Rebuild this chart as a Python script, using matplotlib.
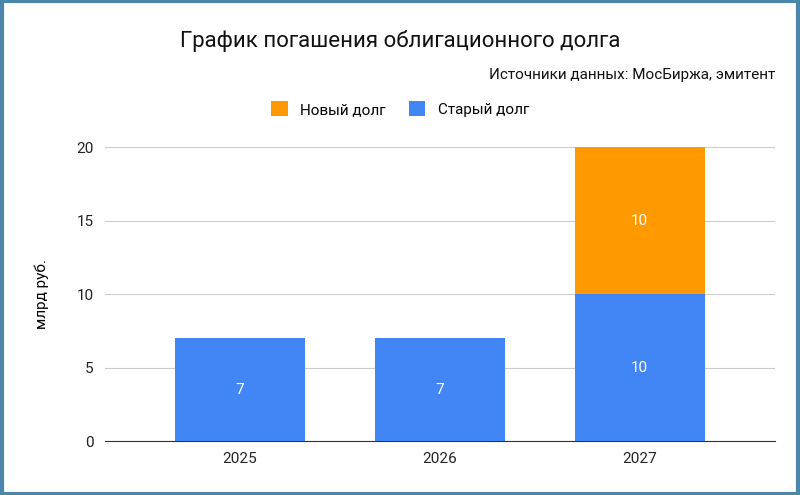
import matplotlib
matplotlib.use("Agg")
import matplotlib.pyplot as plt
from matplotlib.patches import Rectangle

years = ["2025", "2026", "2027"]
old_debt = [7, 7, 10]
new_debt = [0, 0, 10]
yticks = [0, 5, 10, 15, 20]

plt.rcParams["font.family"] = "Roboto"
fig = plt.figure(figsize=(8, 4.95), dpi=100)
ax = fig.add_axes([0.131, 0.109, 0.8375, 0.594])
x = list(range(len(years)))
blue, orange = "#4285f4", "#ff9900"
b1 = ax.bar(x, old_debt, width=0.65, color=blue, label="Старый долг", zorder=3)
b2 = ax.bar(x, new_debt, width=0.65, bottom=old_debt, color=orange, label="Новый долг", zorder=3)
for i, v in enumerate(old_debt):
    ax.text(i, v / 2, str(v), ha="center", va="center", color="white", fontsize=11, zorder=4)
for i, v in enumerate(new_debt):
    if v:
        ax.text(i, old_debt[i] + v / 2, str(v), ha="center", va="center", color="white", fontsize=11, zorder=4)
ax.set_xlim(-0.675, 2.675)
ax.set_ylim(0, 20)
ax.set_yticks(yticks)
ax.set_xticks(x)
ax.set_xticklabels(years)
ax.grid(axis="y", color="#cccccc", lw=0.8, zorder=0)
for s in ["top", "right", "left"]:
    ax.spines[s].set_visible(False)
ax.spines["bottom"].set_color("#333333")
ax.tick_params(length=0, labelsize=11, colors="#222222", pad=8)
ax.set_ylabel("млрд руб.", fontsize=11, labelpad=20)

fig.text(0.5, 0.918, "График погашения облигационного долга", ha="center", va="center", fontsize=16, color="#111111")
fig.text(0.969, 0.848, "Источники данных: МосБиржа, эмитент", ha="right", va="center", fontsize=11, color="#111111")
handles = [b2, b1]
fig.legend(handles=handles, labels=["Новый долг", "Старый долг"], loc="center", bbox_to_anchor=(0.5, 0.78),
           ncol=2, frameon=False, fontsize=11, handlelength=1.1, handleheight=1.1, columnspacing=1.5)
fig.patches.append(Rectangle((0.002, 0.003), 0.996, 0.994, transform=fig.transFigure, fill=False,
                             edgecolor="#4a86a8", lw=3))
fig.savefig("out.png", dpi=100)
